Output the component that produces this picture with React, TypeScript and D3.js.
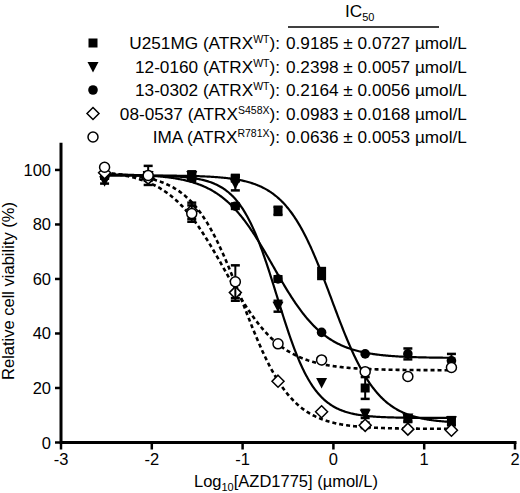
import * as d3 from "d3"

// log10 concentration (µmol/L) of each dose
const logConc = [-2.52, -2.04, -1.56, -1.08, -0.61, -0.13, 0.35, 0.82, 1.3]

const u251mg = [98, 98, 98, 97, 85, 62, 20, 8.7, 7.8]
const u251mgErr = [1, 3.5, 1.5, 1, 1.5, 2, 4, 1, 1.5]
const s120160 = [96, 98, 98, 95, 50, 22, 10.5, 9, 8]
const s120160Err = [1, 1, 1, 2.5, 2, 0, 1.5, 0.5, 0.5]
const s130302 = [99, 98, 97, 86.7, 60, 40.4, 32.5, 32.5, 30]
const s130302Err = [0.5, 1, 1, 1, 1, 0.5, 0.5, 2, 2.5]
const s080537 = [99, 97, 85, 55, 22.5, 11.3, 6.3, 4.9, 4.5]
const s080537Err = [0.5, 1, 3, 3, 0.5, 0.5, 1, 0.5, 0.5]
const ima = [101, 98, 84, 59, 36.2, 30.3, 26, 24.2, 27.5]
const imaErr = [0.5, 1, 3, 6, 0.5, 0.5, 0.5, 0.5, 0.5]

// 4PL fit: top, bottom, logIC50, hill
const fitU251mg = [98, 7, -0.02, 1.7]
const fit120160 = [98, 9, -0.62, 2.1]
const fit130302 = [98.5, 31, -0.665, 1.5]
const fit080537 = [99, 5, -1.007, 1.6]
const fitIma = [100, 26.5, -1.197, 1.4]

const names = ["U251MG", "12-0160", "13-0302", "08-0537", "IMA"]
const genotypes = ["WT", "WT", "WT", "S458X", "R781X"]
const ic50Text = [
  "0.9185 ± 0.0727",
  "0.2398 ± 0.0057",
  "0.2164 ± 0.0056",
  "0.0983 ± 0.0168",
  "0.0636 ± 0.0053",
]

const xTicks = [-3, -2, -1, 0, 1, 2]
const yTicks = [0, 20, 40, 60, 80, 100]

type Shape = "square" | "triangle" | "circle" | "diamond" | "ocircle"

const series: {
  values: number[]
  err: number[]
  fit: number[]
  shape: Shape
  dashed: boolean
}[] = [
  { values: u251mg, err: u251mgErr, fit: fitU251mg, shape: "square", dashed: false },
  { values: s120160, err: s120160Err, fit: fit120160, shape: "triangle", dashed: false },
  { values: s130302, err: s130302Err, fit: fit130302, shape: "circle", dashed: false },
  { values: s080537, err: s080537Err, fit: fit080537, shape: "diamond", dashed: true },
  { values: ima, err: imaErr, fit: fitIma, shape: "ocircle", dashed: true },
]

const font = "'Liberation Sans', Arial, sans-serif"

function Marker({ shape, cx, cy }: { shape: Shape; cx: number; cy: number }) {
  switch (shape) {
    case "square":
      return <rect x={cx - 4.5} y={cy - 4.5} width={9} height={9} fill="#000" />
    case "triangle":
      return <path d={`M${cx - 5.5},${cy - 4.5}L${cx + 5.5},${cy - 4.5}L${cx},${cy + 6}Z`} fill="#000" />
    case "circle":
      return <circle cx={cx} cy={cy} r={4.8} fill="#000" />
    case "diamond":
      return (
        <path
          d={`M${cx},${cy - 6}L${cx + 6},${cy}L${cx},${cy + 6}L${cx - 6},${cy}Z`}
          fill="#fff"
          stroke="#000"
          strokeWidth={1.5}
        />
      )
    default:
      return <circle cx={cx} cy={cy} r={5} fill="#fff" stroke="#000" strokeWidth={1.5} />
  }
}

export default function App() {
  const x = d3.scaleLinear().domain([-3, 2]).range([61, 515])
  const y = d3.scaleLinear().domain([0, 110]).range([442.5, 142.7])

  const logistic = (f: number[]) => (t: number) =>
    f[1] + (f[0] - f[1]) / (1 + Math.pow(10, (t - f[2]) * f[3]))

  const grid = d3.range(logConc[0], logConc[logConc.length - 1] + 0.02, 0.01)
  const line = d3
    .line<number>()
    .x((t) => x(t))
    .curve(d3.curveLinear)

  return (
    <svg
      width={520}
      height={493}
      style={{ position: "absolute", left: 0, top: 0, background: "#fff" }}
      fontFamily={font}
    >
      {/* fitted curves */}
      {series.map((s, i) => {
        const f = logistic(s.fit)
        return (
          <path
            key={"c" + i}
            d={line.y((t) => y(f(t)))(grid) ?? ""}
            fill="none"
            stroke="#000"
            strokeWidth={s.dashed ? 2.6 : 2.2}
            strokeDasharray={s.dashed ? "4 3" : undefined}
          />
        )
      })}

      {/* error bars and points */}
      {series.map((s, i) => (
        <g key={"p" + i}>
          {s.values.map((v, j) =>
            s.err[j] > 0.6 ? (
              <g key={j} stroke="#000" strokeWidth={2}>
                <line x1={x(logConc[j])} x2={x(logConc[j])} y1={y(v - s.err[j])} y2={y(v + s.err[j])} />
                <line x1={x(logConc[j]) - 4.5} x2={x(logConc[j]) + 4.5} y1={y(v - s.err[j])} y2={y(v - s.err[j])} strokeWidth={2.5} />
                <line x1={x(logConc[j]) - 4.5} x2={x(logConc[j]) + 4.5} y1={y(v + s.err[j])} y2={y(v + s.err[j])} strokeWidth={2.5} />
              </g>
            ) : null
          )}
          {s.values.map((v, j) => (
            <Marker key={"m" + j} shape={s.shape} cx={x(logConc[j])} cy={y(v)} />
          ))}
        </g>
      ))}

      {/* axes */}
      <g stroke="#000" strokeWidth={3}>
        <line x1={x(-3)} x2={x(2) + 1.5} y1={y(0)} y2={y(0)} />
        <line x1={x(-3)} x2={x(-3)} y1={y(0) + 1.5} y2={y(110)} />
        {xTicks.map((t) => (
          <line key={t} x1={x(t)} x2={x(t)} y1={y(0)} y2={y(0) + 7} strokeWidth={2.5} />
        ))}
        {yTicks.map((t) => (
          <line key={t} x1={x(-3) - 6} x2={x(-3)} y1={y(t)} y2={y(t)} strokeWidth={2.5} />
        ))}
      </g>
      <g fontSize={16.5} fill="#000">
        {xTicks.map((t) => (
          <text key={t} x={x(t)} y={465} textAnchor="middle">
            {t}
          </text>
        ))}
        {yTicks.map((t) => (
          <text key={t} x={51} y={y(t) + 6} textAnchor="end">
            {t}
          </text>
        ))}
        <text x={286} y={487} textAnchor="middle">
          Log<tspan fontSize={11} dy={4}>10</tspan>
          <tspan dy={-4}>[AZD1775] (µmol/L)</tspan>
        </text>
        <text transform="translate(14,291) rotate(-90)" textAnchor="middle">
          Relative cell viability (%)
        </text>
      </g>

      {/* legend */}
      <g fontSize={17.2} fill="#000">
        <text x={345} y={17}>
          IC<tspan fontSize={11} dy={4}>50</tspan>
        </text>
        <line x1={288} x2={439} y1={27} y2={27} stroke="#000" strokeWidth={1.5} />
        {series.map((s, i) => {
          const cy = 43 + i * 23.5
          return (
            <g key={"l" + i}>
              <Marker shape={s.shape} cx={93} cy={cy} />
              <text x={280} y={cy + 6} textAnchor="end">
                {names[i]} (ATRX<tspan fontSize={10.5} dy={-6}>{genotypes[i]}</tspan>
                <tspan dy={6}>):</tspan>
              </text>
              <text x={286} y={cy + 6}>
                {ic50Text[i]} µmol/L
              </text>
            </g>
          )
        })}
      </g>
    </svg>
  )
}
